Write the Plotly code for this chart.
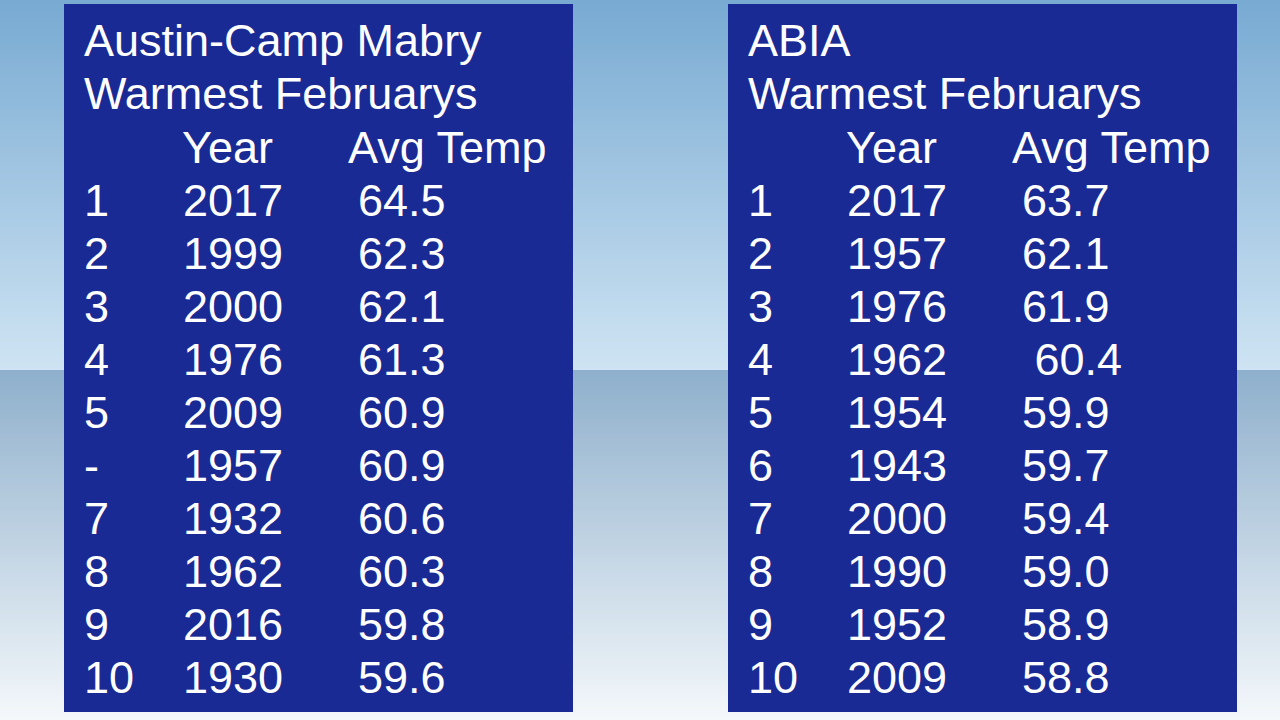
import numpy as np
import plotly.graph_objects as go

# Tabelas
left_title = ["Austin-Camp Mabry", "Warmest Februarys"]
left_rank = ["1", "2", "3", "4", "5", "-", "7", "8", "9", "10"]
left_year = ["2017", "1999", "2000", "1976", "2009", "1957", "1932", "1962", "2016", "1930"]
left_temp = ["64.5", "62.3", "62.1", "61.3", "60.9", "60.9", "60.6", "60.3", "59.8", "59.6"]

right_title = ["ABIA", "Warmest Februarys"]
right_rank = ["1", "2", "3", "4", "5", "6", "7", "8", "9", "10"]
right_year = ["2017", "1957", "1976", "1962", "1954", "1943", "2000", "1990", "1952", "2009"]
right_temp = ["63.7", "62.1", "61.9", " 60.4", "59.9", "59.7", "59.4", "59.0", "58.9", "58.8"]

fig = go.Figure()

# fundo de céu (gradiente vertical com horizonte)
ys = np.arange(0, 721, 4)
def sky(y):
    if y < 372:
        return 0.5 * y / 372
    return 0.5 + 0.5 * (y - 372) / 348
fig.add_trace(go.Heatmap(
    x=[0, 1280], y=ys, z=[[sky(y), sky(y)] for y in ys],
    colorscale=[[0, "#78aad2"], [0.5, "#cfe4f3"], [0.5, "#8fb0cc"], [1, "#f4f8fb"]],
    zmin=0, zmax=1, showscale=False, hoverinfo="skip"))

font = dict(family="Liberation Sans, Arial", size=45, color="white")

def painel(x0, title, ranks, years, temps):
    fig.add_shape(type="rect", x0=x0, x1=x0 + 509, y0=4, y1=712,
                  fillcolor="#1a2a94", line_width=0, layer="above")
    for i, t in enumerate(title):
        fig.add_annotation(x=x0 + 18, y=40 + 53 * i, text=t)
    fig.add_annotation(x=x0 + 116, y=147, text="Year")
    fig.add_annotation(x=x0 + 282, y=147, text="Avg Temp")
    for i in range(len(ranks)):
        y = 200 + 53.1 * i
        fig.add_annotation(x=x0 + 18, y=y, text=ranks[i])
        fig.add_annotation(x=x0 + 117, y=y, text=years[i])
        fig.add_annotation(x=x0 + 292, y=y, text=temps[i].replace(" ", "&nbsp;"))

painel(64, left_title, left_rank, left_year, left_temp)
painel(728, right_title, right_rank, right_year, right_temp)

fig.update_annotations(showarrow=False, xanchor="left", yanchor="middle", font=font)
fig.update_xaxes(range=[0, 1280], visible=False)
fig.update_yaxes(range=[720, 0], visible=False)
fig.update_layout(width=1280, height=720, margin=dict(l=0, r=0, t=0, b=0),
                  plot_bgcolor="#a9c8e2", paper_bgcolor="#a9c8e2")
fig.write_html("out.html", config={"displayModeBar": False},
               post_script="document.body.style.margin='0';")
